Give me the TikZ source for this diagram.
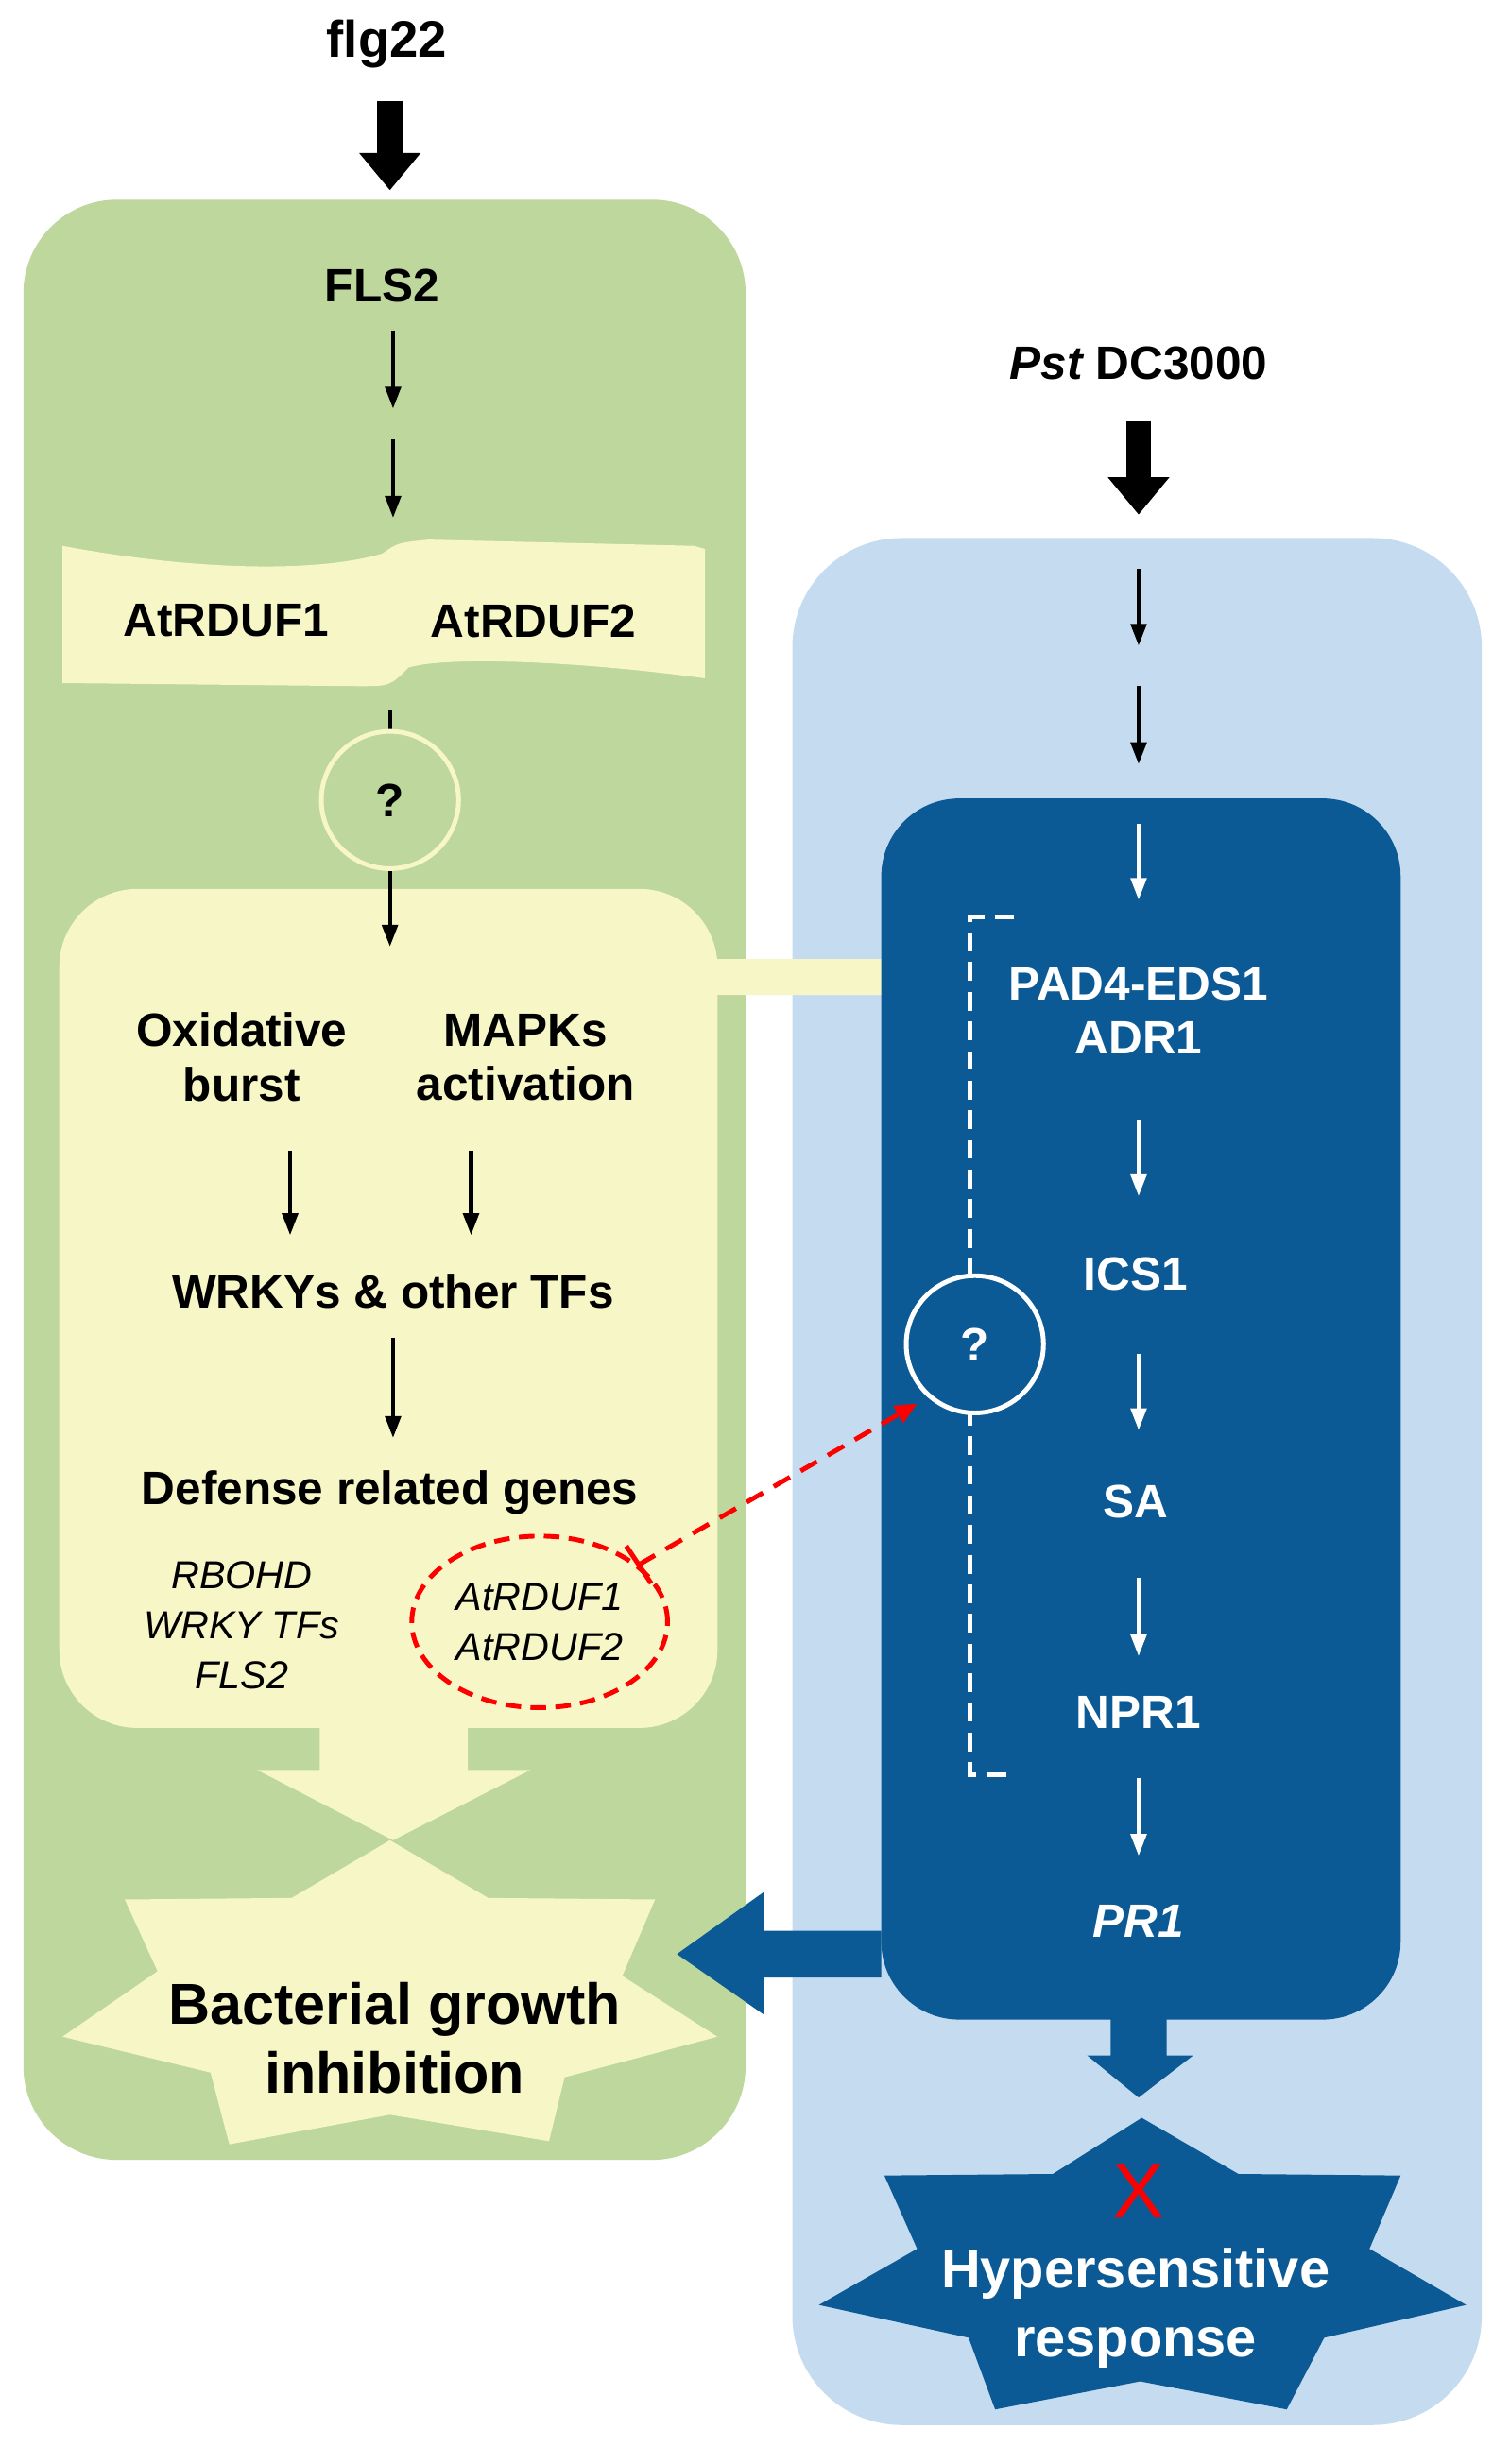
\documentclass[tikz,border=0pt]{standalone}
\usepackage{fontspec}
\setmainfont{Liberation Sans}
\usetikzlibrary{arrows.meta,shapes.geometric,calc}
\definecolor{grn}{HTML}{BDD79C}
\definecolor{ylw}{HTML}{F6F6C6}
\definecolor{lblue}{HTML}{C5DCF0}
\definecolor{dblue}{HTML}{0B5A95}
\begin{document}
\begin{tikzpicture}[x=1pt,y=-1pt,
 txt/.style={font=\fontsize{30}{35}\selectfont\bfseries,align=center,inner sep=0},
 big/.style={font=\fontsize{37}{44}\selectfont\bfseries,align=center,inner sep=0},
 gene/.style={font=\fontsize{25}{32}\selectfont\itshape,align=center,inner sep=0},
 thin/.style={-{Triangle[length=14pt,width=10pt]},line width=2.5pt},
 fat/.style={-{Triangle[length=24pt,width=38pt]},line width=16pt}]
\useasboundingbox (0,0) rectangle (968,1580);
\fill[white] (0,0) rectangle (968,1580);
% boxes
\fill[grn,rounded corners=60pt] (15,128) rectangle (478,1385);
\fill[lblue,rounded corners=70pt] (508,345) rectangle (950,1555);
\fill[ylw,rounded corners=50pt] (38,570) rectangle (460,1108);
% banner
\fill[ylw] (40,350) .. controls (120,365) and (200,368) .. (245,355) .. controls (255,348) .. (275,346) -- (445,350) -- (452,352) -- (452,435) .. controls (380,425) and (290,420) .. (262,428) .. controls (250,440) .. (230,440) -- (40,438) -- cycle;
\node[txt] (r1) at (145,398) {AtRDUF1};
\node[txt] (r2) at (342,398) {AtRDUF2};
% top
\node[txt,font=\fontsize{33}{38}\selectfont\bfseries] (flg) at (248,28) {flg22};
\coordinate (f1) at (250,65); \coordinate (f2) at (250,122);
\draw[fat,black] (f1) -- (f2);
\node[txt] (fls) at (245,183) {FLS2};
\coordinate (a1) at (252,212); \coordinate (a2) at (252,262);
\coordinate (a3) at (252,282); \coordinate (a4) at (252,332);
\draw[thin] (a1) -- (a2); \draw[thin] (a3) -- (a4);
\coordinate (d1) at (250,455); \coordinate (d2) at (250,470);
\draw[line width=2.5pt] (d1) -- (d2);
\node[circle,draw=ylw,line width=3pt,minimum size=88pt,txt] (q1) at (250,513) {?};
\coordinate (a6) at (250,607);
\draw[thin] (q1.south) -- (a6);
% yellow box contents
\node[txt] (ox) at (155,678) {Oxidative\\burst};
\node[txt] (mk) at (337,678) {MAPKs\\activation};
\coordinate (b1) at (186,738); \coordinate (b2) at (186,792);
\coordinate (b3) at (302,738); \coordinate (b4) at (302,792);
\draw[thin] (b1) -- (b2); \draw[thin] (b3) -- (b4);
\node[txt] (wr) at (252,828) {WRKYs \& other TFs};
\coordinate (b5) at (252,858); \coordinate (b6) at (252,922);
\draw[thin] (b5) -- (b6);
\node[txt] (def) at (250,957) {Defense related genes};
\node[gene] (g1) at (155,1042) {RBOHD\\WRKY TFs\\FLS2};
\node[gene,draw=red,dash pattern=on 10pt off 6pt,line width=3pt,ellipse,minimum width=164pt,minimum height=110pt,inner sep=0] (g2) at (346,1040) {AtRDUF1\\AtRDUF2};
% yellow arrows
\fill[ylw] (452,615) -- (570,615) -- (570,590) -- (614,626) -- (570,662) -- (570,638) -- (452,638) -- cycle;
\fill[ylw] (205,1100) -- (300,1100) -- (300,1135) -- (340,1135) -- (252,1180) -- (165,1135) -- (205,1135) -- cycle;
% bacterial star
\fill[ylw] (250,1180) -- (313,1217) -- (420,1218) -- (399,1267) -- (460,1306) -- (362,1332) -- (352,1373) -- (250,1356) -- (147,1375) -- (135,1329) -- (40,1306) -- (101,1264) -- (80,1218) -- (187,1217) -- cycle;
\node[big] (bg) at (253,1307) {Bacterial growth\\inhibition};
% right side
\node[txt] (pst) at (730,233) {\itshape Pst\upshape{} DC3000};
\coordinate (p1) at (730,270); \coordinate (p2) at (730,330);
\draw[fat,black] (p1) -- (p2);
\coordinate (c1) at (730,365); \coordinate (c2) at (730,414);
\coordinate (c3) at (730,440); \coordinate (c4) at (730,490);
\draw[thin] (c1) -- (c2); \draw[thin] (c3) -- (c4);
\fill[dblue,rounded corners=50pt] (565,512) rectangle (898,1295);
\begin{scope}[white]
\coordinate (w1) at (730,528); \coordinate (w2) at (730,577);
\draw[thin] (w1) -- (w2);
\node[txt,text=white] (pad) at (730,648) {PAD4-EDS1\\ADR1};
\coordinate (w3) at (730,718); \coordinate (w4) at (730,767);
\draw[thin] (w3) -- (w4);
\node[txt,text=white] (ics) at (728,817) {ICS1};
\coordinate (w5) at (730,868); \coordinate (w6) at (730,917);
\draw[thin] (w5) -- (w6);
\node[txt,text=white] (sa) at (728,963) {SA};
\coordinate (w7) at (730,1012); \coordinate (w8) at (730,1062);
\draw[thin] (w7) -- (w8);
\node[txt,text=white] (npr) at (730,1098) {NPR1};
\coordinate (w9) at (730,1140); \coordinate (w10) at (730,1190);
\draw[thin] (w9) -- (w10);
\node[txt,text=white] (pr) at (730,1232) {\itshape PR1};
\coordinate (k1) at (650,588); \coordinate (k2) at (622,588);
\coordinate (k3) at (622,1138); \coordinate (k4) at (650,1138);
\draw[white,line width=3pt,dash pattern=on 12pt off 7pt] (k1) -- (k2) -- (k3) -- (k4);
\node[circle,draw=white,fill=dblue,line width=3pt,minimum size=88pt,txt,text=white] (q2) at (625,862) {?};
\end{scope}
% red dashed inhibition
\coordinate (rt) at (588,900);
\draw[red,line width=3pt,dash pattern=on 12pt off 8pt,-{Triangle[length=14pt,width=12pt]}] (g2.30) -- (rt);
\draw[red,line width=3pt] ($(g2.30)+(-8,-12)$) -- ($(g2.30)+(8,12)$);
% dark blue arrows
\fill[dblue] (565,1238) -- (490,1238) -- (490,1213) -- (434,1253) -- (490,1292) -- (490,1268) -- (565,1268) -- cycle;
\fill[dblue] (712,1290) -- (748,1290) -- (748,1318) -- (765,1318) -- (730,1345) -- (697,1318) -- (712,1318) -- cycle;
% hyper star
\fill[dblue] (732,1358) -- (794,1394) -- (898,1395) -- (878,1442) -- (940,1478) -- (849,1499) -- (825,1545) -- (731,1527) -- (638,1545) -- (621,1499) -- (525,1478) -- (588,1442) -- (567,1395) -- (675,1394) -- cycle;
\node[txt,text=red,font=\fontsize{50}{50}\selectfont] (x) at (730,1405) {X};
\node[big,text=white,font=\fontsize{35}{44}\selectfont\bfseries] (hr) at (728,1480) {Hypersensitive\\response};
\end{tikzpicture}
\end{document}
